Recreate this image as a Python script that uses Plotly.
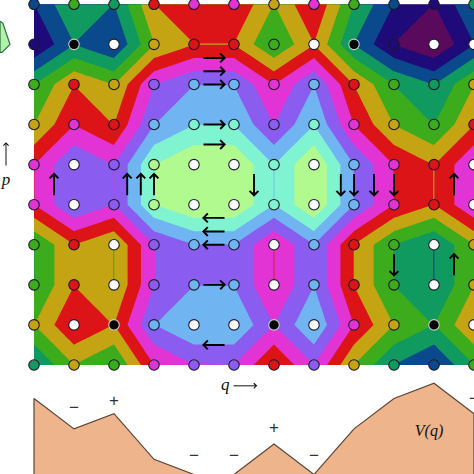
import plotly.graph_objects as go

# Grid coordinates
q = list(range(12))
p = list(range(10))  # p=0 is the bottom row

# Value at every node, listed from the top row (p=9) to the bottom row (p=0)
H_rows = [
    [2, 4, 3, 6, 7, 7, 5, 7, 4, 2, 1, 3],
    [1, 3, 2, 5, 6, 6, 4, 6, 3, 1, 0, 2],
    [4, 6, 5, 8, 9, 9, 7, 9, 6, 4, 3, 5],
    [5, 7, 6, 9, 10, 10, 8, 10, 7, 5, 4, 6],
    [7, 9, 8, 11, 12, 12, 10, 12, 9, 7, 6, 8],
    [7, 9, 8, 11, 12, 12, 10, 12, 9, 7, 6, 8],
    [4, 6, 5, 8, 9, 9, 7, 9, 6, 4, 3, 5],
    [4, 6, 5, 8, 9, 9, 7, 9, 6, 4, 3, 5],
    [5, 7, 6, 9, 10, 10, 8, 10, 7, 5, 4, 6],
    [3, 5, 4, 7, 8, 8, 6, 8, 5, 3, 2, 4],
]
# Special node markers: W white, B black, . band colour
marker_rows = [
    "............",
    ".BW....WB.WW",
    "............",
    "............",
    ".W..WW.W...W",
    ".W..WW.W...W",
    "..W...W...W.",
    "..W...W...W.",
    ".WB.WWBW..BW",
    "............",
]
palette = ["#5a0a5c", "#1e0a78", "#0a4a8c", "#109a60", "#3cac1c", "#c4a412",
           "#dc1418", "#e234d4", "#8a5cf0", "#70b4f2", "#80f4d0", "#b0fa90"]

V = [5, 3, 4, 1, 0, 0, 2, 0, 3, 5, 6, 4]

# arrows: q start, p start, q end, p end
arrow_q0 = [4.2, 4.2, 4.2, 4.2, 4.2, 4.8, 4.8, 4.8, 4.2, 4.8,
            0.5, 2.33, 2.67, 3.0, 5.5, 7.67, 8.0, 8.5, 9.0, 10.5, 9.0, 10.5]
arrow_q1 = [4.8, 4.8, 4.8, 4.8, 4.8, 4.2, 4.2, 4.2, 4.8, 4.2,
            0.5, 2.33, 2.67, 3.0, 5.5, 7.67, 8.0, 8.5, 9.0, 10.5, 9.0, 10.5]
arrow_p0 = [7.66, 7.33, 7.0, 6.0, 5.5, 3.67, 3.33, 3.0, 2.0, 0.5,
            4.2, 4.2, 4.2, 4.2, 4.8, 4.8, 4.8, 4.8, 4.8, 4.2, 2.8, 2.2]
arrow_p1 = [7.66, 7.33, 7.0, 6.0, 5.5, 3.67, 3.33, 3.0, 2.0, 0.5,
            4.8, 4.8, 4.8, 4.8, 4.2, 4.2, 4.2, 4.2, 4.2, 4.8, 2.2, 2.8]

sign_q = [1, 2, 4, 5, 6, 7, 10, 11]
sign_p = [-1.1, -0.92, -2.3, -2.3, -1.6, -2.3, -0.92, -0.87]
sign_text = ["−", "+", "−", "−", "+", "−", "+", "−"]

blob_q = [-0.85, -0.78, -0.6, -0.8, -0.85, -0.85]
blob_p = [8.58, 8.53, 8.0, 7.8, 7.8, 8.58]

H = H_rows[::-1]
kinds = marker_rows[::-1]

eps = 0.02
n = len(palette)
cs = []
for i, c in enumerate(palette):
    cs.append([i / n, c])
    cs.append([(i + 1) / n, c])

fig = go.Figure()
fig.add_trace(go.Contour(
    x=q, y=p, z=H, colorscale=cs, zmin=eps, zmax=n + eps, showscale=False,
    autocontour=False,
    contours=dict(start=1 + eps, end=11 + eps, size=1, coloring="fill", showlines=False),
    line=dict(width=0, smoothing=0), hoverinfo="skip",
))

mx, my, mc, ml = [], [], [], []
for j, row in enumerate(kinds):
    for i, k in enumerate(row):
        mx.append(q[i]); my.append(p[j])
        mc.append({"W": "#ffffff", "B": "#000000"}.get(k, palette[min(H[j][i], n - 1)]))
        ml.append("#c8d0c8" if k == "B" else "#1a1a2a")
fig.add_trace(go.Scatter(x=mx, y=my, mode="markers",
                         marker=dict(size=10.5, color=mc, line=dict(color=ml, width=1.1)),
                         hoverinfo="skip"))

fig.add_trace(go.Scatter(x=blob_q, y=blob_p, mode="lines", fill="toself",
                         fillcolor="#b2f2a4", line=dict(color="#2a6a48", width=1.2),
                         hoverinfo="skip"))

# V(q) profile closed down its left edge, drawn on its own vertical scale
fig.add_trace(go.Scatter(x=[q[0]] + q + [q[-1], q[0]], y=[0] + V + [0, 0], yaxis="y2",
                         mode="lines", fill="toself",
                         fillcolor="#eeb48c", line=dict(color="#5a4538", width=1.2),
                         hoverinfo="skip"))
fig.add_trace(go.Scatter(x=[9.875], y=[2.8], yaxis="y2", mode="text", text=["V(q)"],
                         textfont=dict(family="Liberation Serif", size=16, color="#111111",
                                       style="italic"),
                         hoverinfo="skip"))

fig.add_trace(go.Scatter(x=sign_q, y=sign_p, mode="text", text=sign_text,
                         textfont=dict(family="Liberation Sans", size=17, color="#333333"),
                         hoverinfo="skip"))
fig.add_trace(go.Scatter(x=[-0.7, 4.78], y=[4.6, -0.52], mode="text",
                         text=["p", "q"],
                         textfont=dict(family="Liberation Serif", size=17, color="#111111",
                                       style="italic"),
                         hoverinfo="skip"))

ann = []
for a, b, c, d in zip(arrow_q0, arrow_p0, arrow_q1, arrow_p1):
    ann.append(dict(x=c, y=d, ax=a, ay=b, xref="x", yref="y", axref="x", ayref="y", text="",
                    showarrow=True, arrowhead=4, arrowsize=0.9, arrowwidth=1.9, arrowcolor="#000000",
                    standoff=0, startstandoff=0))
# axis direction arrows
for a, b, c, d in [(-0.7, 4.94, -0.7, 5.56), (4.95, -0.52, 5.58, -0.52)]:
    ann.append(dict(x=c, y=d, ax=a, ay=b, xref="x", yref="y", axref="x", ayref="y", text="",
                    showarrow=True, arrowhead=4, arrowsize=1.0, arrowwidth=1.0, arrowcolor="#111111",
                    standoff=0, startstandoff=0))

fig.update_layout(
    width=474, height=474, margin=dict(l=0, r=0, t=0, b=0),
    paper_bgcolor="white", plot_bgcolor="white", showlegend=False,
    xaxis=dict(range=[-0.85, 11.0], visible=False, showgrid=False, zeroline=False, fixedrange=True),
    yaxis=dict(range=[-2.72, 9.107], visible=False, showgrid=False, zeroline=False, fixedrange=True),
    yaxis2=dict(range=[0.033, 31.2], overlaying="y", visible=False, showgrid=False,
                zeroline=False, fixedrange=True),
    annotations=ann,
)
fig.write_html("out.html", config={"displayModeBar": False},
               post_script="document.body.style.margin='0';document.body.style.overflow='hidden';")
